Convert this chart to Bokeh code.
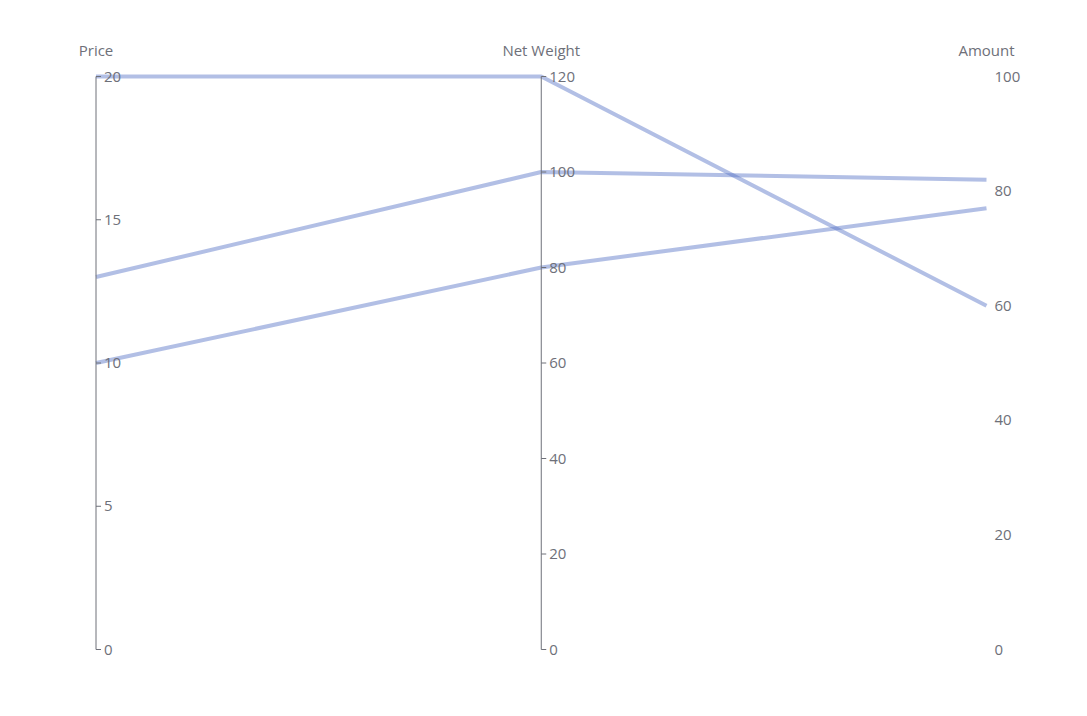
from bokeh.plotting import figure
from bokeh.models import Range1d, ColumnDataSource
from bokeh.core.properties import value
from bokeh.embed import file_html
from bokeh.resources import INLINE

# ---- data ----
dimensions = ["Price", "Net Weight", "Amount"]
dim_max = [20, 120, 100]
dim_ticks = [[0, 5, 10, 15, 20], [0, 20, 40, 60, 80, 100, 120], [0, 20, 40, 60, 80, 100]]
show_axis_line = [True, True, False]
series_price = [20, 13, 10]
series_net_weight = [120, 100, 80]
series_amount = [60, 82, 77]

W, H = 1071, 700
AX0, AXSTEP = 95.5, 445.25        # pixel position of first axis and spacing
YTOP, YBOT = 76, 649               # pixel rows of max and 0
ppu_x = AXSTEP
ppu_y = YBOT - YTOP

x_start = -AX0 / ppu_x
x_end = x_start + W / ppu_x
y_end = 1 + YTOP / ppu_y
y_start = -(H - YBOT) / ppu_y

p = figure(width=W, height=H, output_backend="svg", toolbar_location=None,
           x_range=Range1d(x_start, x_end), y_range=Range1d(y_start, y_end),
           min_border=0, min_border_left=0, min_border_right=0,
           min_border_top=0, min_border_bottom=0)
p.axis.visible = False
p.grid.visible = False
p.outline_line_color = None
p.background_fill_color = "white"
p.border_fill_color = "white"

AXIS_COLOR = "#6E7079"
FONT = value("Open Sans")
FSIZE = "15px"

# series lines
rows = list(zip(series_price, series_net_weight, series_amount))
xs = [list(range(len(dimensions))) for _ in rows]
ys = [[v / m for v, m in zip(r, dim_max)] for r in rows]
p.multi_line(xs=xs, ys=ys, line_color="#5470c6", line_alpha=0.45, line_width=4)

# axes
tick_len = 5 / ppu_x
for i, (name, m, ticks, show) in enumerate(zip(dimensions, dim_max, dim_ticks, show_axis_line)):
    if show:
        p.segment(x0=[i], y0=[0], x1=[i], y1=[1], line_color=AXIS_COLOR, line_width=1)
        p.segment(x0=[i] * len(ticks), y0=[t / m for t in ticks],
                  x1=[i + tick_len] * len(ticks), y1=[t / m for t in ticks],
                  line_color=AXIS_COLOR, line_width=1)
    src = ColumnDataSource(dict(x=[i] * len(ticks), y=[t / m for t in ticks],
                                t=[str(t) for t in ticks]))
    p.text(x="x", y="y", text="t", source=src, x_offset=8, text_align="left",
           text_baseline="middle", text_color=AXIS_COLOR, text_font=FONT,
           text_font_size=FSIZE)
    p.text(x=[i], y=[1], text=[name], y_offset=-27, text_align="center",
           text_baseline="middle", text_color=AXIS_COLOR, text_font=FONT,
           text_font_size=FSIZE)

open("out.html", "w").write(file_html(p, INLINE))
